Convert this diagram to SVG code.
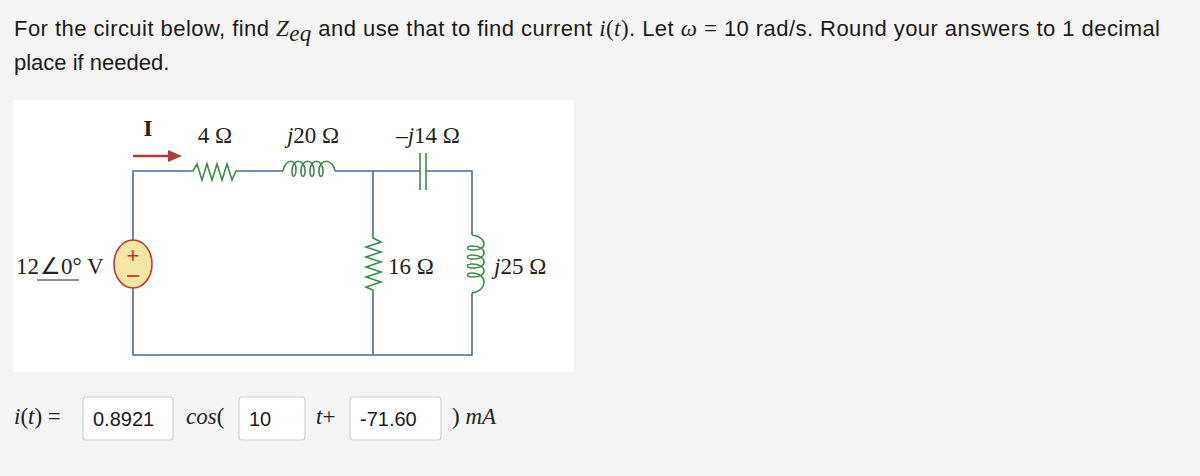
<svg xmlns="http://www.w3.org/2000/svg" width="1200" height="476" viewBox="0 0 1200 476">
<style>
.t{font-family:"Liberation Sans",Arial,sans-serif;font-size:20px;fill:#1a1a1a}
.h{font-size:22px}
.s{font-family:"Liberation Serif","Times New Roman",serif;font-size:23px;fill:#222}
.w{fill:none;stroke:#4a6b94;stroke-width:1.6}
.g{fill:none;stroke:#3d8c4a;stroke-width:1.6}
.box{fill:#fff;stroke:#cfcfcf;stroke-width:1.2}
</style>
<rect width="1200" height="476" fill="#f4f4f4"/>
<text class="t h" x="14" y="36" textLength="1146" lengthAdjust="spacing">For the circuit below, find <tspan class="s" font-style="italic" font-size="26">Z</tspan><tspan class="s" font-style="italic" font-size="17" dy="5">eq</tspan><tspan dy="-5"> and use that to find current </tspan><tspan class="s" font-style="italic" font-size="25">i</tspan><tspan class="s" font-size="25">(</tspan><tspan class="s" font-style="italic" font-size="25">t</tspan><tspan class="s" font-size="25">)</tspan>. Let <tspan class="s" font-style="italic" font-size="25">ω</tspan> <tspan class="s" font-size="25">=</tspan> 10 rad/s. Round your answers to 1 decimal</text>
<text class="t h" x="14" y="70">place if needed.</text>
<rect x="13" y="100" width="561" height="272" fill="#fff"/>
<g id="wires" class="connectors">
<path class="w" d="M189,171 H133 V241 M133,287 V355 H472 V293 M472,235 V171 H426 M420,171 H335 M283,171 H241 M373,171 V235 M373,293 V355"/>
</g>
<g id="arrow"><line x1="133" y1="156" x2="170" y2="156" stroke="#b03a3a" stroke-width="2.5"/><polygon points="168,150 182,156 168,162" fill="#b03a3a"/></g>
<g id="R4"><polyline class="g" points="189,171 193,171 197,164 202,180 207,164 212,180 217,164 222,180 227,164 232,180 236,171 241,171"/><text class="s" x="215" y="143" text-anchor="middle">4 Ω</text><text class="s" x="148" y="136" font-weight="bold" text-anchor="middle">I</text></g>
<g id="L20"><path class="g" d="M283,171 C285,158 297,158 296,171 C295,178 292,178 292,171 C292,158 305,158 305,171 C305,178 301,178 301,171 C301,158 314,158 314,171 C314,178 310,178 310,171 C310,158 323,158 323,171 C323,178 319,178 319,171 C319,158 333,158 335,171"/><text class="s" x="313" y="143" text-anchor="middle"><tspan font-style="italic">j</tspan>20 Ω</text></g>
<g id="C14"><line class="g" x1="420" y1="153" x2="420" y2="190"/><line class="g" x1="426" y1="153" x2="426" y2="190"/><text class="s" x="428" y="143" text-anchor="middle">–<tspan font-style="italic">j</tspan>14 Ω</text></g>
<g id="R16"><polyline class="g" points="373,235 373,238 381,242 366,247 381,252 366,257 381,262 366,267 381,272 366,277 381,282 366,287 373,290 373,293"/><text class="s" x="388" y="274">16 Ω</text></g>
<g id="L25"><path class="g" d="M472,235 C488,237 488,251 472,250 C466,250 466,246 472,246 C488,246 488,260 472,259 C466,259 466,255 472,255 C488,255 488,269 472,268 C466,268 466,264 472,264 C488,264 488,278 472,277 C466,277 466,273 472,273 C488,273 488,291 472,293"/><text class="s" x="494" y="274"><tspan font-style="italic">j</tspan>25 Ω</text></g>
<g id="src"><ellipse cx="133" cy="264" rx="19" ry="24" fill="#f6e7a8" stroke="#c0392b" stroke-width="1.6"/><text x="133" y="263" font-family="Liberation Sans,sans-serif" font-size="22" fill="#c0392b" text-anchor="middle">+</text><line x1="127" y1="276" x2="139" y2="276" stroke="#c0392b" stroke-width="1.8"/><text class="s" x="16" y="274">12<tspan dx="1">∠</tspan>0° V</text><line x1="37" y1="280" x2="79" y2="280" stroke="#222" stroke-width="1"/></g>
<g id="answer">
<text class="s" x="14" y="424" font-size="25"><tspan font-style="italic">i</tspan>(<tspan font-style="italic">t</tspan>) =</text>
<rect class="box" x="83" y="397" width="90" height="43" rx="3"/><text class="t" x="93" y="426">0.8921</text>
<text class="s" x="186" y="424" font-size="25"><tspan font-style="italic">cos</tspan>(</text>
<rect class="box" x="239" y="397" width="66" height="43" rx="3"/><text class="t" x="249" y="426">10</text>
<text class="s" x="316" y="424" font-size="25"><tspan font-style="italic">t</tspan>+</text>
<rect class="box" x="350" y="397" width="91" height="43" rx="3"/><text class="t" x="360" y="426">-71.60</text>
<text class="s" x="452" y="424" font-size="25">) <tspan font-style="italic">mA</tspan></text>
</g>
</svg>
